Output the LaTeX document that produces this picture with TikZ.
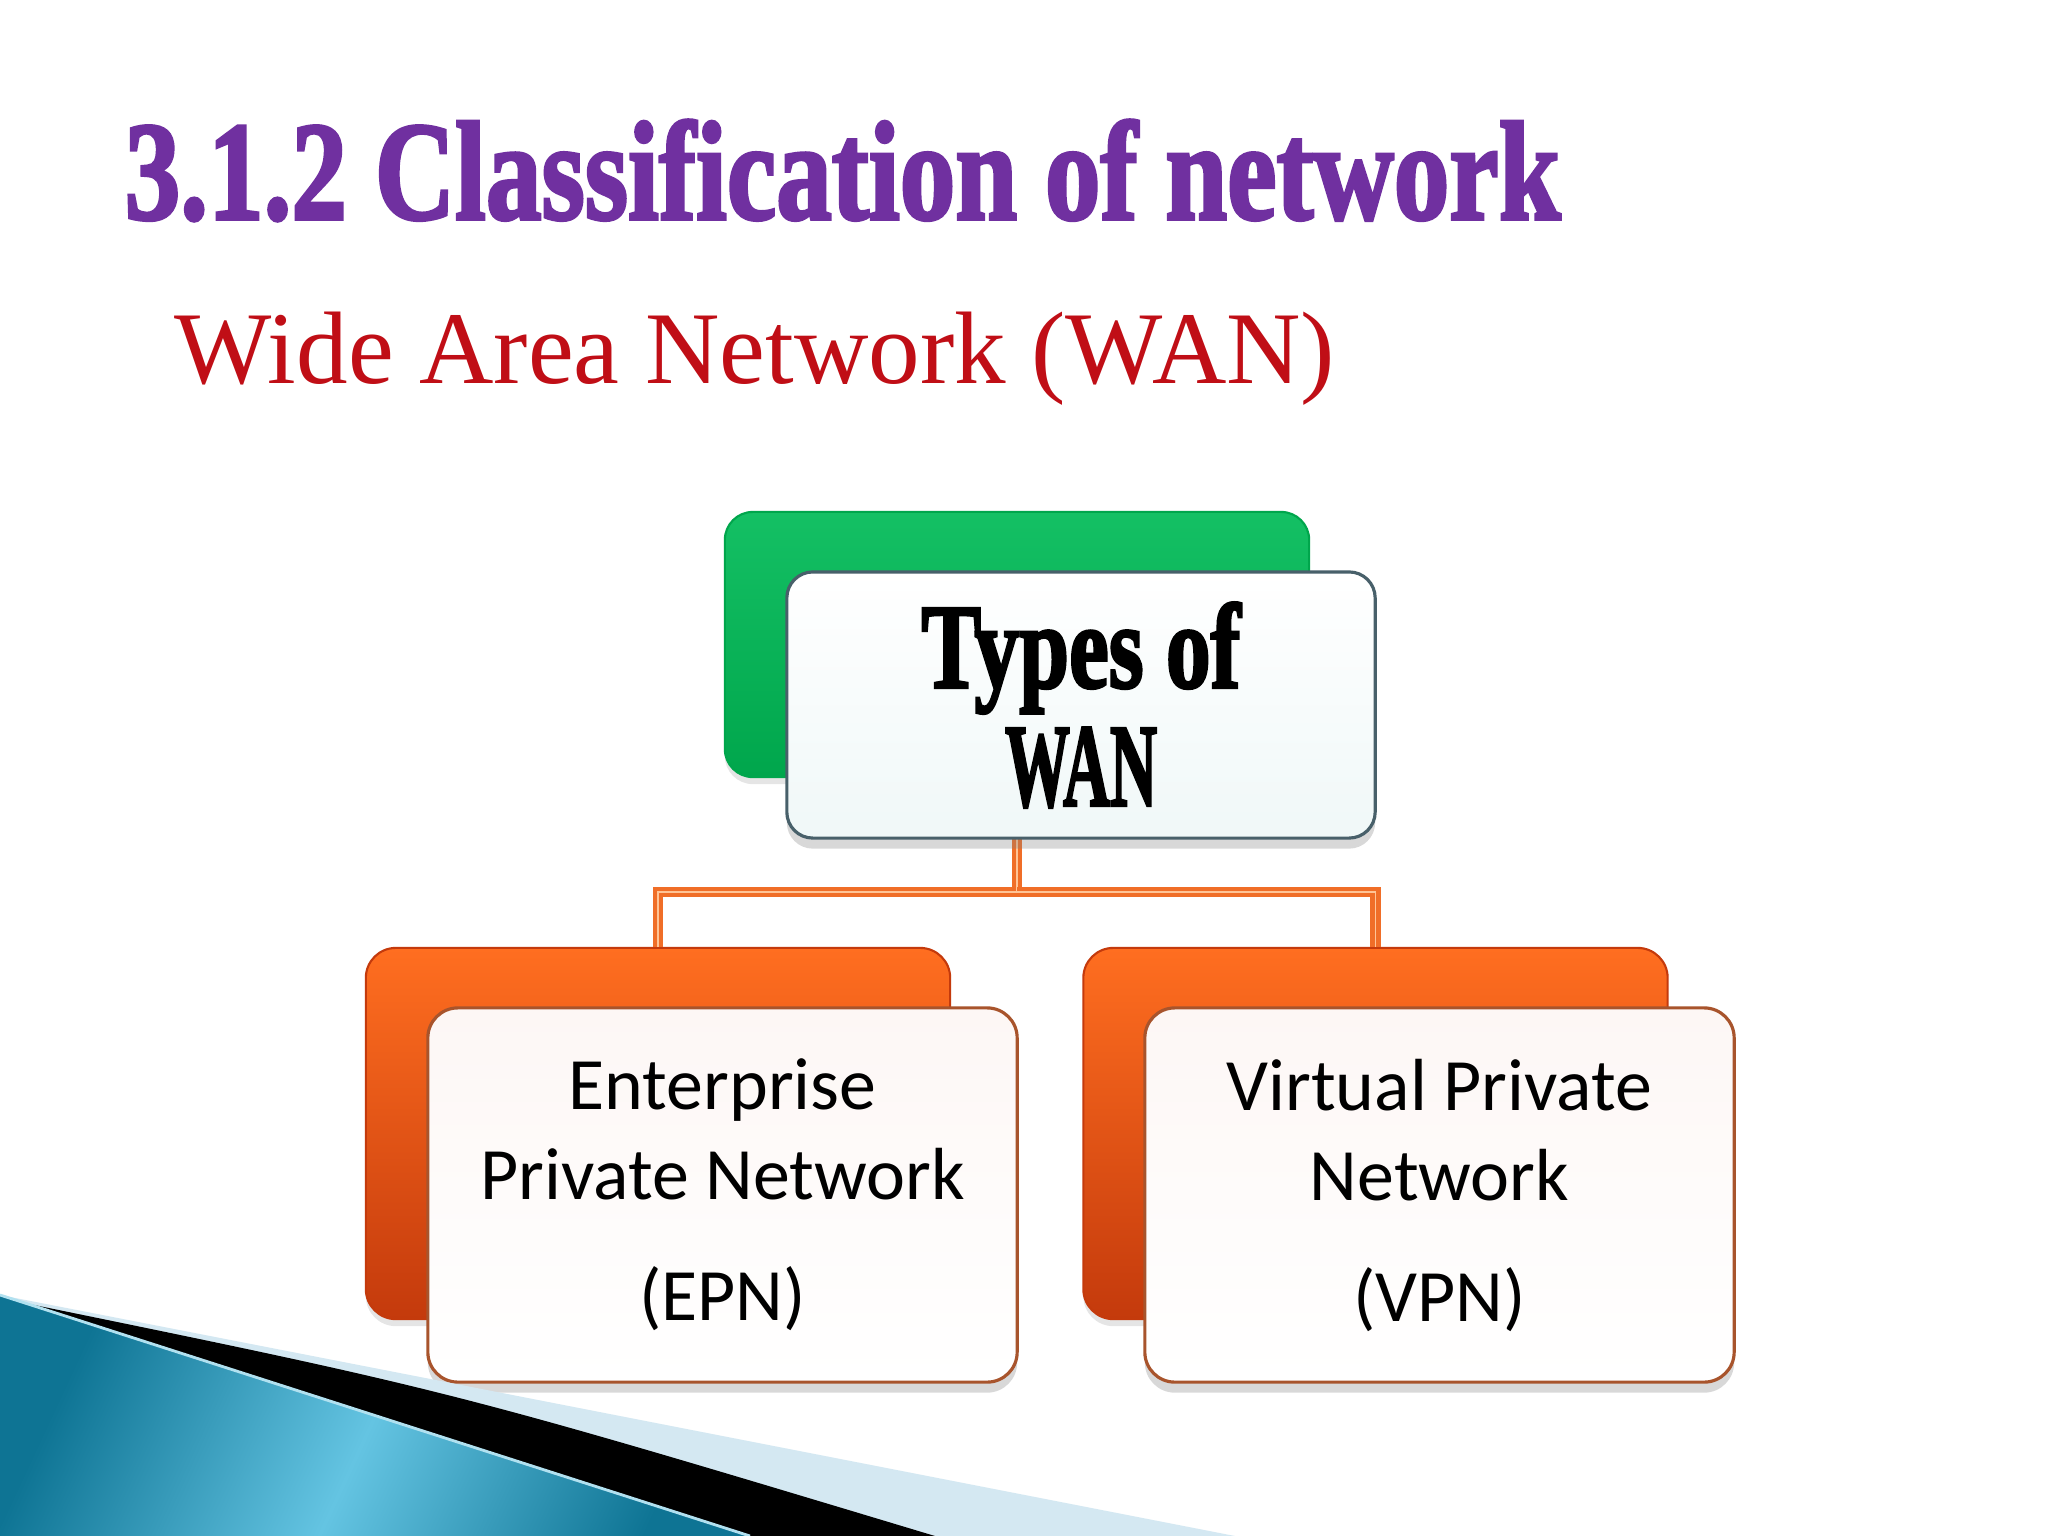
\documentclass[tikz,border=0pt]{standalone}
\usepackage{fontspec}
\usepackage{graphicx}
\setmainfont{Liberation Serif}
\newfontfamily\slabfont{Liberation Serif}[FakeBold=2.5]
\newfontfamily\cardfont{Carlito}
\usetikzlibrary{shadows}

\definecolor{titlepurple}{RGB}{112,48,160}
\definecolor{wanred}{RGB}{192,14,22}
\definecolor{greenlight}{RGB}{20,192,100}
\definecolor{greendark}{RGB}{0,166,76}
\definecolor{orangelight}{RGB}{255,110,32}
\definecolor{orangedark}{RGB}{196,58,12}
\definecolor{linkorange}{RGB}{240,110,40}
\definecolor{linklight}{RGB}{255,196,150}
\definecolor{topedge}{RGB}{72,96,106}
\definecolor{subedge}{RGB}{168,84,44}
\definecolor{topfill}{RGB}{240,248,248}
\definecolor{subfill}{RGB}{253,247,245}
\definecolor{tealdark}{RGB}{14,116,148}
\definecolor{teallight}{RGB}{100,196,226}
\definecolor{bandlight}{RGB}{212,232,242}

\begin{document}
\begin{tikzpicture}[x=0.01cm, y=-0.01cm,
        backgreen/.style={rectangle, rounded corners=0.28cm, minimum width=5.84cm, minimum height=2.65cm, top color=greenlight, bottom color=greendark, draw=greendark, line width=0.6pt, drop shadow={opacity=0.2, shadow xshift=0pt, shadow yshift=-2pt}},
        backorange/.style={rectangle, rounded corners=0.3cm, minimum width=5.84cm, minimum height=3.71cm, top color=orangelight, bottom color=orangedark, draw=orangedark, line width=0.6pt, drop shadow={opacity=0.2, shadow xshift=0pt, shadow yshift=-2pt}},
        topcard/.style={rectangle, rounded corners=0.26cm, minimum width=5.88cm, minimum height=2.66cm, top color=white, bottom color=topfill, draw=topedge, line width=0.9pt, align=center, inner sep=0pt, font={\slabfont\bfseries\fontsize{20pt}{24pt}\selectfont}, drop shadow={opacity=0.3, shadow xshift=0pt, shadow yshift=-3pt}},
        subcard/.style={rectangle, rounded corners=0.3cm, minimum width=5.89cm, minimum height=3.74cm, top color=subfill, bottom color=white, draw=subedge, line width=0.9pt, align=center, inner sep=0pt, font={\cardfont\fontsize{21pt}{25.6pt}\selectfont}, drop shadow={opacity=0.3, shadow xshift=0pt, shadow yshift=-3pt}},
        link/.style={draw=linkorange, double=linklight, double distance=0.45pt, line width=1.3pt},
        heading/.style={anchor=base west, inner sep=0pt}
    ]

    \useasboundingbox (0,0) rectangle (2048,1536);
    \fill[white] (0,0) rectangle (2048,1536);

    % titles
    \node[heading, text=titlepurple, font=\slabfont\bfseries] (title) at (124,219)
        {\resizebox{14.35cm}{0.99cm}{3.1.2 Classification of network}};
    \node[heading, text=wanred, font=\fontsize{29.3pt}{34pt}\selectfont] (subtitle) at (174,383)
        {Wide Area Network (WAN)};

    % back cards
    \node[backgreen] (wanback) at (1017,644.5) {};
    \node[backorange] (epnback) at (658,1133.5) {};
    \node[backorange] (vpnback) at (1375.5,1133.5) {};

    % tree links
    \coordinate (fork) at (1017,892);
    \draw[link] (wanback) -- (fork) -| (epnback);
    \draw[link] (fork) -| (vpnback);

    % front cards
    \node[topcard] (wancard) at (1081,705)
        {\resizebox{3.19cm}{0.85cm}{Types of}\\[3pt]\resizebox{1.52cm}{0.78cm}{WAN}};
    \node[subcard] (epncard) at (722.5,1195)
        {Enterprise\\Private Network\\[8.8pt](EPN)};
    \node[subcard] (vpncard) at (1439.5,1195)
        {Virtual Private\\Network\\[8.8pt](VPN)};

    % corner wedge
    \fill[bandlight] (0,1295) -- (1235,1536) -- (0,1536) -- cycle;
    \fill[black] (0,1298) .. controls (450,1390) .. (935,1536) -- (0,1536) -- cycle;
    \shade[left color=tealdark, right color=tealdark, middle color=teallight, shading angle=65]
        (0,1295) -- (750,1536) -- (0,1536) -- cycle;
    \draw[teallight!50!white, line width=0.8pt] (0,1295) -- (750,1536);

\end{tikzpicture}
\end{document}
